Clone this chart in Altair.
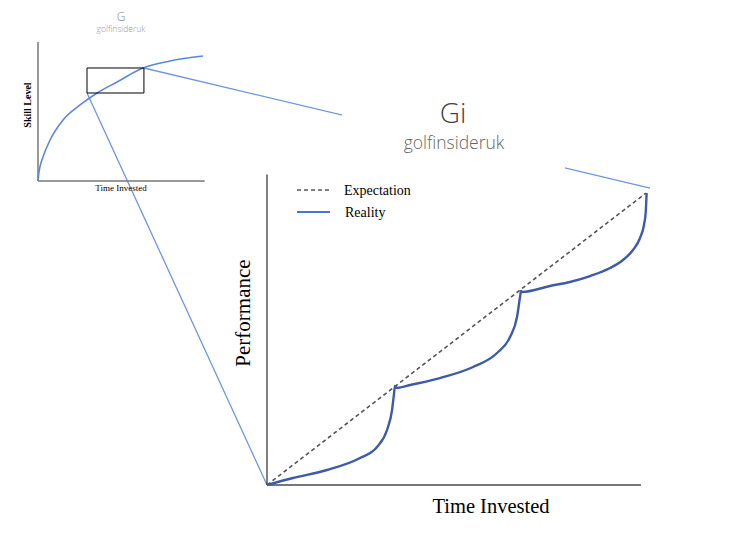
import altair as alt
import pandas as pd

# ---------------- data ----------------
# small inset chart: skill level vs time invested (arbitrary units 0..10)
small_time = [0, 0.06, 0.18, 0.30, 0.73, 1.52, 2.55, 3.58, 4.79, 6.36, 8.0, 10.0]
small_skill = [0, 0.65, 1.30, 1.73, 2.95, 4.39, 5.47, 6.33, 7.12, 8.13, 8.63, 8.99]
zoom_box = {"x0": 2.97, "x1": 6.42, "y0": 6.33, "y1": 8.13}

# main chart: performance vs time invested (units 0..3)
expect_time = [0, 3]
expect_perf = [0, 3]
real_time = [0, 0.206, 0.475, 0.736, 0.871, 0.950, 0.990, 1.006, 1.013,
             1.029, 1.132, 1.369, 1.631, 1.821, 1.924, 1.979, 2.003, 2.011,
             2.019, 2.240, 2.398, 2.557, 2.715, 2.818, 2.897, 2.953, 2.984, 2.998, 3.005]
real_perf = [0, 0.072, 0.154, 0.277, 0.390, 0.565, 0.771, 0.945, 1.017,
             0.997, 1.027, 1.099, 1.212, 1.356, 1.521, 1.726, 1.932, 1.993,
             1.983, 2.045, 2.086, 2.147, 2.229, 2.312, 2.414, 2.538, 2.671, 2.805, 3.000]
legend_labels = ["Expectation", "Reality"]

# ---------------- layout (page pixels) ----------------
W, H = 719, 540
S_OX, S_OY, S_SX, S_SY = 38, 181, 16.5, 13.9        # small panel origin / px per unit
B_OX, B_OY, B_SX, B_SY = 267, 485, 126.33, 97.33    # big panel origin / px per unit

def sp(t, v):
    return S_OX + t * S_SX, S_OY - v * S_SY

def bp(t, v):
    return B_OX + t * B_SX, B_OY - v * B_SY

X = alt.Scale(domain=[8, 8 + W])
Y = alt.Scale(domain=[8, 8 + H], reverse=True)

def xy(df):
    return dict(x=alt.X("px:Q", scale=X, axis=None), y=alt.Y("py:Q", scale=Y, axis=None))

def seg_df(rows):
    return pd.DataFrame(rows, columns=["px", "py", "px2", "py2"])

def rules(rows, **kw):
    df = seg_df(rows)
    return alt.Chart(df).mark_rule(**kw).encode(
        x=alt.X("px:Q", scale=X, axis=None), y=alt.Y("py:Q", scale=Y, axis=None),
        x2="px2:Q", y2="py2:Q")

def text(px, py, label, **kw):
    df = pd.DataFrame({"px": [px], "py": [py], "t": [label]})
    return alt.Chart(df).mark_text(**kw).encode(**xy(df), text="t:N")

layers = []

# connectors from zoom box to main chart
bx0, by0 = sp(zoom_box["x0"], zoom_box["y0"])
bx1, by1 = sp(zoom_box["x1"], zoom_box["y1"])
ox, oy = bp(0, 0)
tx, ty = bp(3.032, 3.05)
layers.append(rules([[bx1, by1, tx, ty], [bx0, by0, ox, oy]], color="#6e95e2", strokeWidth=1.3))

# white logo backdrop (hides the connector behind the logo)
mask = pd.DataFrame({"px": [342], "py": [98], "px2": [565], "py2": [172]})
layers.append(alt.Chart(mask).mark_rect(color="white").encode(
    x=alt.X("px:Q", scale=X, axis=None), y=alt.Y("py:Q", scale=Y, axis=None),
    x2="px2:Q", y2="py2:Q"))

# small panel
sx_end, _ = sp(10.1, 0)
_, sy_top = sp(0, 10.0)
layers.append(rules([[S_OX, S_OY, sx_end, S_OY], [S_OX, S_OY, S_OX, sy_top]],
                    color="#777777", strokeWidth=1.5))
small_df = pd.DataFrame({"px": [sp(t, v)[0] for t, v in zip(small_time, small_skill)],
                         "py": [sp(t, v)[1] for t, v in zip(small_time, small_skill)],
                         "o": range(len(small_time))})
layers.append(alt.Chart(small_df).mark_line(color="#5b87dd", strokeWidth=1.6,
                                            interpolate="monotone").encode(**xy(small_df), order="o:Q"))
box = pd.DataFrame({"px": [bx0], "py": [by1], "px2": [bx1], "py2": [by0]})
layers.append(alt.Chart(box).mark_rect(fillOpacity=0, stroke="black", strokeWidth=1).encode(
    x=alt.X("px:Q", scale=X, axis=None), y=alt.Y("py:Q", scale=Y, axis=None),
    x2="px2:Q", y2="py2:Q"))
layers.append(text(121, 188, "Time Invested", font="Liberation Serif", fontSize=9, color="black"))
layers.append(text(28, 105, "Skill Level", font="Liberation Serif", fontSize=10, fontWeight="bold",
                   angle=270, baseline="middle", color="black"))
layers.append(text(121, 16.5, "G", font="Open Sans", fontSize=12, fontWeight=300,
                   baseline="middle", color="#888888"))
layers.append(text(121, 29, "golfinsideruk", font="Open Sans", fontSize=8.5, fontWeight=300,
                   baseline="middle", color="#999999"))

# big panel axes
bx_end, _ = bp(2.96, 0)
_, by_top = bp(0, 3.19)
layers.append(rules([[B_OX, B_OY, bx_end, B_OY]], color="#777777", strokeWidth=2))
layers.append(rules([[B_OX, B_OY, B_OX, by_top]], color="black", strokeWidth=1))

# expectation
e0 = bp(expect_time[0], expect_perf[0])
e1 = bp(expect_time[1], expect_perf[1])
layers.append(rules([[e0[0], e0[1], e1[0], e1[1]]], color="#555555", strokeWidth=1.6,
                    strokeDash=[4, 3]))

# reality
real_df = pd.DataFrame({"px": [bp(t, v)[0] for t, v in zip(real_time, real_perf)],
                        "py": [bp(t, v)[1] for t, v in zip(real_time, real_perf)],
                        "o": range(len(real_time))})
layers.append(alt.Chart(real_df).mark_line(color="#3d5ba8", strokeWidth=2.4,
                                           interpolate="monotone").encode(**xy(real_df), order="o:Q"))

# legend
layers.append(rules([[297, 190, 330, 190]], color="black", strokeWidth=1, strokeDash=[4, 3]))
layers.append(rules([[297, 212, 330, 212]], color="#4a73cc", strokeWidth=2))
layers.append(text(344, 191, legend_labels[0], font="Liberation Serif", fontSize=14,
                   align="left", baseline="middle", color="black"))
layers.append(text(345, 213, legend_labels[1], font="Liberation Serif", fontSize=14,
                   align="left", baseline="middle", color="black"))

# titles
layers.append(text(244, 313, "Performance", font="Liberation Serif", fontSize=21, angle=270,
                   baseline="middle", color="black"))
layers.append(text(491, 507, "Time Invested", font="Liberation Serif", fontSize=20.5,
                   baseline="middle", color="black"))

# big logo
layers.append(text(453, 115, "Gi", font="Open Sans", fontSize=28, fontWeight=300,
                   baseline="middle", color="#444444"))
layers.append(text(454, 144, "golfinsideruk", font="Open Sans", fontSize=17.5, fontWeight=300,
                   baseline="middle", color="#666666"))

chart = alt.layer(*layers).properties(
    width=W, height=H, padding=0, autosize=alt.AutoSizeParams(type="none"),
    background="white"
).configure_view(stroke=None)

chart.save("out.html", embed_options={"renderer": "svg", "actions": False})
